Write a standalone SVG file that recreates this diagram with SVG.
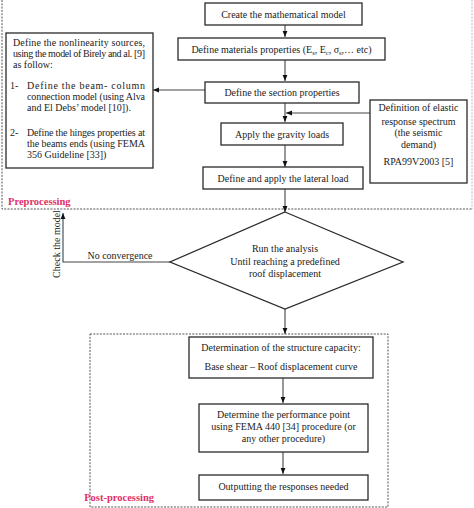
<svg xmlns="http://www.w3.org/2000/svg" width="474" height="508" viewBox="0 0 474 508">
<style>
.box{fill:#fff;stroke:#2a2a2a;stroke-width:1.3}
.t{font-family:"Liberation Serif","Times New Roman",serif;font-size:10px;fill:#222}
.c{text-anchor:middle}
.con{fill:none;stroke:#444;stroke-width:1.1}
.dash{fill:none;stroke:#555;stroke-width:1;stroke-dasharray:2,1.3}
.lab{font-family:"Liberation Serif","Times New Roman",serif;font-size:10.5px;font-weight:bold;fill:#e0306a}
</style>
<defs>
<marker id="ah" viewBox="0 0 10 10" refX="10" refY="5" markerWidth="6" markerHeight="6" orient="auto" markerUnits="userSpaceOnUse">
<path d="M0,1 L10,5 L0,9 z" fill="#111"/>
</marker>
</defs>
<rect width="474" height="508" fill="#fff"/>
<g id="regions">
<path class="dash" d="M2,0 V209 H472"/>
<path class="dash" d="M472,0 V209" stroke-opacity="0.4"/>
<path class="dash" d="M90,334 H388 V507 H90 Z"/>
<text class="lab" x="8" y="205">Preprocessing</text>
<text class="lab" x="154" y="501" text-anchor="end">Post-processing</text>
</g>
<g id="connectors">
<path class="con" d="M285,25 V37" marker-end="url(#ah)"/>
<path class="con" d="M285,60 V81" marker-end="url(#ah)"/>
<path class="con" d="M205,90 H153" marker-end="url(#ah)"/>
<path class="con" d="M285,103 V122" marker-end="url(#ah)"/>
<path class="con" d="M370,113 H286" marker-end="url(#ah)"/>
<path class="con" d="M285,145 V167" marker-end="url(#ah)"/>
<path class="con" d="M285,189 V212" marker-end="url(#ah)"/>
<path class="con" d="M170,262 H63 V213" marker-end="url(#ah)"/>
<path class="con" d="M285,309 V334" marker-end="url(#ah)"/>
<path class="con" d="M283,378 V403" marker-end="url(#ah)"/>
<path class="con" d="M283,452 V474" marker-end="url(#ah)"/>
<text class="t c" x="120" y="259">No convergence</text>
<text class="t c" transform="translate(60,244) rotate(-90)" font-size="8">Check the model</text>
</g>
<g id="n-create">
<rect class="box" x="205" y="3" width="157" height="22"/>
<text class="t c" x="283.5" y="17.5">Create the mathematical model</text>
</g>
<g id="n-materials">
<rect class="box" x="178" y="38" width="207" height="22"/>
<text class="t c" x="281.5" y="52.5">Define materials properties (E<tspan font-size="6.5" dy="2">s</tspan><tspan dy="-2">, E</tspan><tspan font-size="6.5" dy="2">c</tspan><tspan dy="-2">, σ</tspan><tspan font-size="6.5" dy="2">s</tspan><tspan dy="-2">,… etc)</tspan></text>
</g>
<g id="n-section">
<rect class="box" x="205" y="82" width="154" height="21"/>
<text class="t c" x="282" y="96">Define the section properties</text>
</g>
<g id="n-nonlinearity">
<rect class="box" x="6" y="33" width="147" height="135"/>
<text class="t" x="13" y="46" textLength="132" lengthAdjust="spacing">Define the nonlinearity sources,</text>
<text class="t" x="13" y="57" textLength="132" lengthAdjust="spacing">using the model of Birely and al. [9]</text>
<text class="t" x="13" y="68">as follow:</text>
<text class="t" x="10" y="89">1-</text>
<text class="t" x="27" y="89" textLength="118" lengthAdjust="spacing">Define the beam- column</text>
<text class="t" x="27" y="100" textLength="118" lengthAdjust="spacing">connection model (using Alva</text>
<text class="t" x="27" y="111">and El Debs’ model [10]).</text>
<text class="t" x="10" y="136">2-</text>
<text class="t" x="27" y="136" textLength="118" lengthAdjust="spacing">Define the hinges properties at</text>
<text class="t" x="27" y="147" textLength="118" lengthAdjust="spacing">the beams ends (using FEMA</text>
<text class="t" x="27" y="158">356 Guideline [33])</text>
</g>
<g id="n-gravity">
<rect class="box" x="221" y="123" width="122" height="22"/>
<text class="t c" x="282" y="137.5">Apply the gravity loads</text>
</g>
<g id="n-spectrum">
<rect class="box" x="370" y="100" width="97" height="83"/>
<text class="t c" x="418.5" y="111">Definition of elastic</text>
<text class="t c" x="418.5" y="125">response spectrum</text>
<text class="t c" x="418.5" y="136">(the seismic</text>
<text class="t c" x="418.5" y="148">demand)</text>
<text class="t c" x="418.5" y="165">RPA99V2003 [5]</text>
</g>
<g id="n-lateral">
<rect class="box" x="203" y="167" width="160" height="22"/>
<text class="t c" x="283" y="181.5">Define and apply the lateral load</text>
</g>
<g id="n-analysis">
<polygon class="box" points="285,212 403,262 285,309 170,262"/>
<text class="t c" x="285" y="252">Run the analysis</text>
<text class="t c" x="285" y="265">Until reaching a predefined</text>
<text class="t c" x="285" y="277">roof displacement</text>
</g>
<g id="n-capacity">
<rect class="box" x="189" y="337" width="184" height="41"/>
<text class="t c" x="281" y="351">Determination of the structure capacity:</text>
<text class="t c" x="281" y="370">Base shear – Roof displacement curve</text>
</g>
<g id="n-performance">
<rect class="box" x="199" y="404" width="169" height="48"/>
<text class="t c" x="283.5" y="418">Determine the performance point</text>
<text class="t c" x="283.5" y="430">using FEMA 440 [34] procedure (or</text>
<text class="t c" x="283.5" y="442">any other procedure)</text>
</g>
<g id="n-output">
<rect class="box" x="199" y="475" width="169" height="25"/>
<text class="t c" x="283.5" y="489.5">Outputting the responses needed</text>
</g>
</svg>
